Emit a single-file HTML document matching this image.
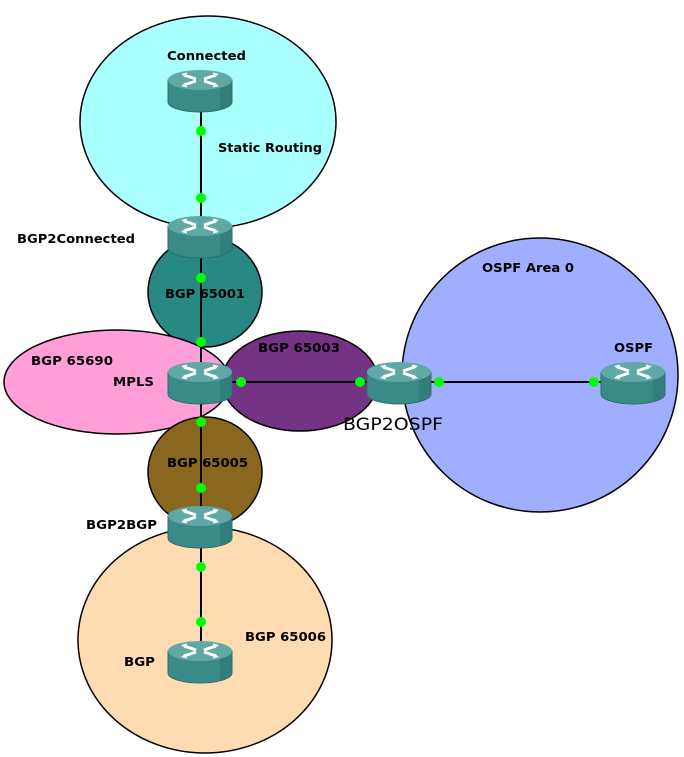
<!DOCTYPE html>
<html><head><style>body{margin:0;background:#fff}svg{display:block}</style></head><body>
<svg width="684" height="757" xmlns="http://www.w3.org/2000/svg" font-family="DejaVu Sans, Liberation Sans, sans-serif">
<defs>
<g id="r">
<path d="M-32,-12 L-32,10 A32,10 0 0 0 32,10 L32,-12 Z" fill="#3a8a88"/>
<path d="M-32,-12 L-32,10 A32,10 0 0 0 32,10 L32,-12 Z" fill="none" stroke="#2d6e6c" stroke-width="1"/>
<path d="M20,-6 L32,-12 L32,10 A32,10 0 0 1 20,18 Z" fill="#2f7573" opacity="0.6"/>
<ellipse cx="0" cy="-12" rx="32" ry="10" fill="#5fa8a6"/>
<g stroke="#fff" stroke-width="3" fill="none">
<path d="M-16,-17 L-4,-13"/><path d="M4,-11 L16,-7"/><path d="M16,-17 L4,-13"/><path d="M-4,-11 L-16,-7"/>
</g>
<g fill="#fff"><path d="M-19,-18 l6,-1.5 l-1,5z"/><path d="M19,-6 l-6,1.5 l1,-5z"/><path d="M19,-18 l-6,-1.5 l1,5z"/><path d="M-19,-6 l6,1.5 l-1,-5z"/></g>
</g>
</defs>
<g stroke="#000" stroke-width="1.5">
<ellipse cx="208" cy="122" rx="128" ry="106" fill="#aaffff"/>
<ellipse cx="205" cy="292" rx="57" ry="55" fill="#288883"/>
<ellipse cx="117" cy="382" rx="113" ry="52" fill="#ff9ed8"/>
<ellipse cx="300" cy="381" rx="78" ry="50" fill="#743384"/>
<ellipse cx="540" cy="375" rx="138" ry="137" fill="#a0aeff"/>
<ellipse cx="205" cy="472" rx="57" ry="55" fill="#89671e"/>
<ellipse cx="205" cy="640" rx="127" ry="113" fill="#ffdbb1"/>
</g>
<g stroke="#000" stroke-width="2">
<line x1="201" y1="90" x2="201" y2="661"/>
<line x1="200" y1="382" x2="633" y2="382"/>
</g>
<use href="#r" x="200" y="92"/>
<use href="#r" x="200" y="238"/>
<use href="#r" x="200" y="384"/>
<use href="#r" x="399" y="384"/>
<use href="#r" x="633" y="384"/>
<use href="#r" x="200" y="528"/>
<use href="#r" x="200" y="663"/>
<g fill="#00ff00">
<circle cx="201" cy="131" r="5"/><circle cx="201" cy="198" r="5"/><circle cx="201" cy="278" r="5"/><circle cx="201" cy="342" r="5"/>
<circle cx="241" cy="382" r="5"/><circle cx="360" cy="382" r="5"/><circle cx="439" cy="382" r="5"/><circle cx="594" cy="382" r="5"/>
<circle cx="201" cy="422" r="5"/><circle cx="201" cy="488" r="5"/><circle cx="201" cy="567" r="5"/><circle cx="201" cy="622" r="5"/>
</g>
<g font-size="12.5" font-weight="bold" fill="#000">
<text x="167" y="60" textLength="79" lengthAdjust="spacingAndGlyphs">Connected</text>
<text x="218" y="152" textLength="104" lengthAdjust="spacingAndGlyphs">Static Routing</text>
<text x="17" y="243" textLength="118" lengthAdjust="spacingAndGlyphs">BGP2Connected</text>
<text x="165" y="298" textLength="80" lengthAdjust="spacingAndGlyphs">BGP 65001</text>
<text x="482" y="272" textLength="92" lengthAdjust="spacingAndGlyphs">OSPF Area 0</text>
<text x="31" y="365" textLength="82" lengthAdjust="spacingAndGlyphs">BGP 65690</text>
<text x="113" y="386" textLength="41" lengthAdjust="spacingAndGlyphs">MPLS</text>
<text x="258" y="352" textLength="82" lengthAdjust="spacingAndGlyphs">BGP 65003</text>
<text x="614" y="352" textLength="39" lengthAdjust="spacingAndGlyphs">OSPF</text>
<text x="167" y="467" textLength="81" lengthAdjust="spacingAndGlyphs">BGP 65005</text>
<text x="86" y="529" textLength="71" lengthAdjust="spacingAndGlyphs">BGP2BGP</text>
<text x="245" y="641" textLength="81" lengthAdjust="spacingAndGlyphs">BGP 65006</text>
<text x="124" y="666" textLength="31" lengthAdjust="spacingAndGlyphs">BGP</text>
</g>
<text x="343" y="430" font-size="17" fill="#000" textLength="100" lengthAdjust="spacingAndGlyphs">BGP2OSPF</text>
</svg>
</body></html>
